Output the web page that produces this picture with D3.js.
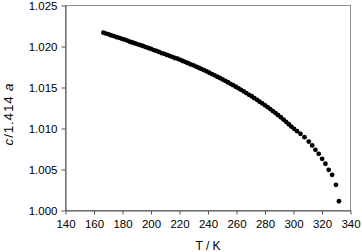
<!DOCTYPE html>
<html>
<head>
<meta charset="utf-8">
<script src="https://cdn.jsdelivr.net/npm/d3@7"></script>
<style>
  body { margin: 0; background: #fff; }
  svg text { font-family: "Liberation Sans", Arial, sans-serif; fill: #000; }
</style>
</head>
<body>
<svg id="chart" width="362" height="252"></svg>
<script>
// temperature (K) and c/1.414a
const temps = [
  166.6, 168.4, 170.3, 172.1, 174.0, 175.9, 177.7, 179.6, 181.4, 183.3,
  185.2, 187.0, 188.9, 190.7, 192.6, 194.4, 196.3, 198.2, 200.0, 201.9,
  203.7, 205.6, 207.4, 209.3, 211.2, 213.0, 214.9, 216.7, 218.6, 220.5,
  222.3, 224.2, 226.0, 227.9, 229.8, 231.6, 233.5, 235.3, 237.2, 239.0,
  240.9, 242.8, 244.6, 246.5, 248.3, 250.2, 252.1, 253.9, 255.8, 257.6,
  259.5, 261.4, 263.2, 265.1, 266.9, 268.8, 270.7, 272.5, 274.4, 276.2,
  278.1, 280.0, 281.8, 283.7, 285.5, 287.4, 289.2, 291.1, 293.0, 294.8,
  296.7, 298.5, 300.4, 302.5, 304.9, 307.7, 310.7, 313.1, 315.4, 317.7,
  320.1, 322.4, 324.7, 327.1, 329.8, 331.9
];
const ratio = [
  1.02168, 1.02158, 1.02149, 1.02135, 1.02127, 1.02114, 1.02106, 1.02093, 1.02085, 1.02072,
  1.02058, 1.02049, 1.02038, 1.02027, 1.02016, 1.02006, 1.01993, 1.01982, 1.01970, 1.01956,
  1.01947, 1.01934, 1.01920, 1.01911, 1.01897, 1.01886, 1.01873, 1.01860, 1.01851, 1.01837,
  1.01823, 1.01810, 1.01797, 1.01782, 1.01770, 1.01755, 1.01741, 1.01727, 1.01711, 1.01697,
  1.01680, 1.01664, 1.01649, 1.01631, 1.01616, 1.01598, 1.01581, 1.01564, 1.01545, 1.01528,
  1.01509, 1.01490, 1.01472, 1.01452, 1.01432, 1.01411, 1.01393, 1.01370, 1.01350, 1.01327,
  1.01306, 1.01283, 1.01261, 1.01237, 1.01213, 1.01188, 1.01163, 1.01137, 1.01109, 1.01082,
  1.01052, 1.01024, 1.00996, 1.00967, 1.00935, 1.00894, 1.00841, 1.00793, 1.00740, 1.00691,
  1.00630, 1.00570, 1.00496, 1.00435, 1.00313, 1.00113
];
const xTicks = [140, 160, 180, 200, 220, 240, 260, 280, 300, 320, 340];
const yTicks = [1.000, 1.005, 1.010, 1.015, 1.020, 1.025];

const svg = d3.select("#chart");
const plotLeft = 65.5, plotRight = 350.5, plotTop = 5.5, plotBottom = 210.5;

const x = d3.scaleLinear().domain([140, 340]).range([plotLeft, plotRight]);
const y = d3.scaleLinear().domain([1.000, 1.025]).range([plotBottom, plotTop]);

// plot area frame
svg.append("rect")
    .attr("x", plotLeft).attr("y", plotTop)
    .attr("width", plotRight - plotLeft).attr("height", plotBottom - plotTop)
    .attr("fill", "none")
    .attr("stroke", "#8c8c8c")
    .attr("stroke-width", 1);

const xAxis = svg.append("g")
    .attr("transform", `translate(0,${plotBottom})`)
    .call(d3.axisBottom(x).tickValues(xTicks).tickSize(4).tickSizeOuter(0).tickPadding(5));

const yAxis = svg.append("g")
    .attr("transform", `translate(${plotLeft},0)`)
    .call(d3.axisLeft(y).tickValues(yTicks).tickSize(4).tickSizeOuter(0).tickPadding(4)
        .tickFormat(d3.format(".3f")));

[xAxis, yAxis].forEach(a => {
    a.select(".domain").attr("stroke", "#555");
    a.selectAll(".tick line").attr("stroke", "#555");
    a.selectAll(".tick text")
        .style("font-size", "11.5px")
        .attr("fill", "#000");
});

svg.append("g")
    .selectAll("circle")
    .data(temps.map((t, i) => [t, ratio[i]]))
    .enter().append("circle")
    .attr("cx", d => x(d[0]))
    .attr("cy", d => y(d[1]))
    .attr("r", 2.4)
    .attr("fill", "#000");

svg.append("text")
    .attr("x", (plotLeft + plotRight) / 2)
    .attr("y", 250)
    .attr("text-anchor", "middle")
    .style("font-size", "12px")
    .text("T / K");

// y title
const yl = svg.append("text")
    .attr("transform", `translate(13,114) rotate(-90)`)
    .attr("text-anchor", "middle")
    .style("font-size", "13.5px")
    .style("letter-spacing", "0.8px");
yl.append("tspan").style("font-style", "italic").text("c");
yl.append("tspan").text("/1.414 ");
yl.append("tspan").style("font-style", "italic").text("a");
</script>
</body>
</html>
